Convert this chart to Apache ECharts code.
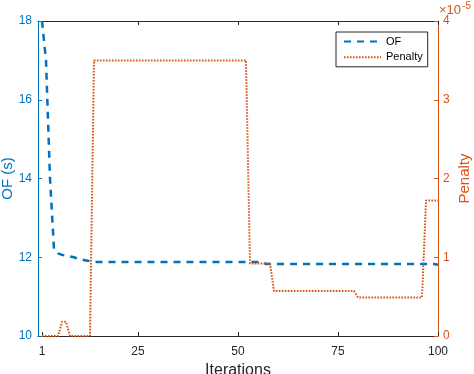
<!DOCTYPE html>
<html>
<head>
<meta charset="utf-8">
<script src="https://cdn.jsdelivr.net/npm/echarts@6/dist/echarts.min.js"></script>
<style>
html,body{margin:0;padding:0;background:#fff;}
#c{width:474px;height:374px;}
</style>
</head>
<body>
<div id="c"></div>
<script>
// ---- data ----
const iterations = [1,2,3,4,5,6,7,8,9,10,11,12,13,14,15,16,17,18,19,20,21,22,23,24,25,26,27,28,29,30,31,32,33,34,35,36,37,38,39,40,41,42,43,44,45,46,47,48,49,50,51,52,53,54,55,56,57,58,59,60,61,62,63,64,65,66,67,68,69,70,71,72,73,74,75,76,77,78,79,80,81,82,83,84,85,86,87,88,89,90,91,92,93,94,95,96,97,98,99,100];
const ofValues = [18.0,17.0,14.0,12.2,12.1,12.06,12.04,12.02,12.0,11.96,11.94,11.92,11.9,
  11.88,11.88,11.88,11.88,11.88,11.88,11.88,11.88,11.88,11.88,11.88,11.88,11.88,11.88,11.88,11.88,11.88,11.88,11.88,11.88,11.88,11.88,11.88,11.88,11.88,11.88,11.88,11.88,11.88,11.88,11.88,11.88,11.88,11.88,11.88,11.88,11.88,11.88,11.88,11.88,11.88,11.88,11.88,
  11.83,11.83,11.83,11.83,11.83,11.83,11.83,11.83,11.83,11.83,11.83,11.83,11.83,11.83,11.83,11.83,11.83,11.83,11.83,11.83,11.83,11.83,11.83,11.83,11.83,11.83,11.83,11.83,11.83,11.83,11.83,11.83,11.83,11.83,11.83,11.83,11.83,11.83,11.83,11.83,11.83,11.83,11.83,
  11.81];
// penalty in units of 1e-5
const penaltyE5 = [0,0,0,0,0,0.18,0.18,0,0,0,0,0,0,
  3.5,3.5,3.5,3.5,3.5,3.5,3.5,3.5,3.5,3.5,3.5,3.5,3.5,3.5,3.5,3.5,3.5,3.5,3.5,3.5,3.5,3.5,3.5,3.5,3.5,3.5,3.5,3.5,3.5,3.5,3.5,3.5,3.5,3.5,3.5,3.5,3.5,3.5,3.5,
  0.92,0.92,0.92,0.92,0.92,0.92,
  0.57,0.57,0.57,0.57,0.57,0.57,0.57,0.57,0.57,0.57,0.57,0.57,0.57,0.57,0.57,0.57,0.57,0.57,0.57,0.57,0.57,
  0.49,0.49,0.49,0.49,0.49,0.49,0.49,0.49,0.49,0.49,0.49,0.49,0.49,0.49,0.49,0.49,0.49,
  1.72,1.72,1.72,1.72];
const xTicks = [1,25,50,75,100];
const seriesNames = ['OF','Penalty'];

const BLUE = '#0072BD', ORANGE = '#D95319', DARK = '#262626';
const FONT = 'Liberation Sans, Arial, sans-serif';

const chart = echarts.init(document.getElementById('c'));
chart.setOption({
  animation: false,
  backgroundColor: '#fff',
  grid: {left: 38, right: 36, top: 21, bottom: 38, containLabel: false, outerBoundsMode: 'none'},
  legend: {
    orient: 'vertical', left: 336, top: 32,
    data: seriesNames,
    itemWidth: 37, itemHeight: 11, itemGap: 4.8,
    padding: [4, 5, 4, 7],
    borderColor: DARK, borderWidth: 1, borderRadius: 0, backgroundColor: '#fff',
    itemStyle: {opacity: 0},
    textStyle: {fontFamily: FONT, fontSize: 11, color: '#000'}
  },
  xAxis: [{
    type: 'value', min: 0, max: 100, position: 'bottom',
    name: 'Iterations', nameLocation: 'middle', nameGap: 21,
    nameTextStyle: {fontFamily: FONT, fontSize: 16, color: DARK},
    axisLine: {onZero: false, lineStyle: {color: DARK, width: 1}},
    axisTick: {inside: true, length: 4, customValues: xTicks, lineStyle: {color: DARK}},
    axisLabel: {customValues: xTicks, fontFamily: FONT, fontSize: 12, color: DARK, margin: 10},
    splitLine: {show: false}
  }, {
    type: 'value', min: 0, max: 100, position: 'top',
    axisLine: {onZero: false, lineStyle: {color: DARK, width: 1}},
    axisTick: {inside: true, length: 4, customValues: xTicks, lineStyle: {color: DARK}},
    axisLabel: {show: false},
    splitLine: {show: false}
  }],
  yAxis: [{
    type: 'value', min: 10, max: 18, interval: 2, position: 'left',
    name: 'OF (s)', nameLocation: 'middle', nameGap: 23, nameRotate: 90, nameMoveOverlap: false,
    nameTextStyle: {fontFamily: FONT, fontSize: 15, color: BLUE},
    axisLine: {show: true, onZero: false, lineStyle: {color: BLUE, width: 1}},
    axisTick: {show: true, inside: true, length: 4, lineStyle: {color: BLUE}},
    axisLabel: {fontFamily: FONT, fontSize: 12, color: BLUE, margin: 6},
    splitLine: {show: false}
  }, {
    type: 'value', min: 0, max: 4, interval: 1, position: 'right',
    name: 'Penalty', nameLocation: 'middle', nameGap: 19, nameRotate: 90, nameMoveOverlap: false,
    nameTextStyle: {fontFamily: FONT, fontSize: 15, color: ORANGE},
    axisLine: {show: true, onZero: false, lineStyle: {color: ORANGE, width: 1}},
    axisTick: {show: true, inside: true, length: 4, lineStyle: {color: ORANGE}},
    axisLabel: {fontFamily: FONT, fontSize: 12, color: ORANGE, margin: 5},
    splitLine: {show: false}
  }],
  graphic: [{
    type: 'text', left: 439, top: 1,
    style: {
      text: '{m|×10}{s|-5}',
      rich: {
        m: {fontFamily: FONT, fontSize: 13, fill: ORANGE, verticalAlign: 'bottom'},
        s: {fontFamily: FONT, fontSize: 10, fill: ORANGE, verticalAlign: 'top', padding: [0,0,6,1]}
      }
    }
  }],
  series: [{
    name: 'OF', type: 'line', xAxisIndex: 0, yAxisIndex: 0,
    data: iterations.map((x, i) => [x, ofValues[i]]),
    symbol: 'none', z: 2,
    itemStyle: {color: BLUE},
    lineStyle: {color: BLUE, width: 2.5, type: [7, 6]}
  }, {
    name: 'Penalty', type: 'line', xAxisIndex: 0, yAxisIndex: 1,
    data: iterations.map((x, i) => [x, penaltyE5[i]]),
    symbol: 'none', z: 3,
    itemStyle: {color: ORANGE},
    lineStyle: {color: ORANGE, width: 2, type: [1.6, 1.4]}
  }]
});
</script>
</body>
</html>
